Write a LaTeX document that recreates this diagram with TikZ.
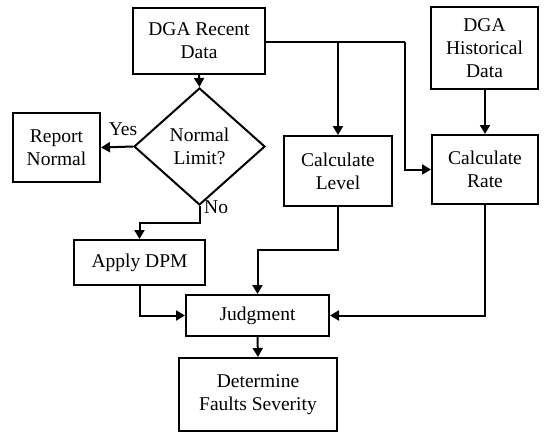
\documentclass[tikz,border=0pt]{standalone}
\usepackage{fontspec}
\setmainfont{Liberation Serif}
\usetikzlibrary{shapes.geometric,arrows.meta,calc}
\begin{document}
\begin{tikzpicture}[x=1pt,y=-1pt,
  box/.style={draw,line width=2pt,align=center,inner sep=0pt,font=\fontsize{19.5}{23}\selectfont},
  dia/.style={draw,diamond,line width=2pt,align=center,inner sep=0pt,font=\fontsize{19.5}{23}\selectfont},
  conn/.style={line width=2pt,-{Triangle[length=9pt,width=10pt]}},
  plain/.style={line width=2pt},
  lbl/.style={font=\fontsize{19.5}{23}\selectfont,inner sep=1pt}]
\useasboundingbox (0,0) rectangle (550,439);
\node[box,minimum width=132pt,minimum height=66pt] (recent) at (199,41) {DGA Recent\\Data};
\node[dia,minimum width=131pt,minimum height=117pt] (limit) at (199.5,146.5) {Normal\\Limit?};
\node[box,minimum width=87pt,minimum height=69pt] (report) at (56.5,147.5) {Report\\Normal};
\node[box,minimum width=107pt,minimum height=82pt] (hist) at (484.5,48) {DGA\\Historical\\Data};
\node[box,minimum width=108pt,minimum height=70pt] (level) at (338,171) {Calculate\\Level};
\node[box,minimum width=106pt,minimum height=69pt] (rate) at (485,169.5) {Calculate\\Rate};
\node[box,minimum width=131pt,minimum height=45pt] (dpm) at (139.5,262.5) {Apply DPM};
\node[box,minimum width=143pt,minimum height=41pt] (judg) at (257.5,315.5) {Judgment};
\node[box,minimum width=158pt,minimum height=73pt] (det) at (258,394.5) {Determine\\Faults Severity};
% connectors
\draw[conn] (recent.south) -- (limit.north);
\draw[conn] (limit.west) -- (report.east);
\node[lbl] (yes) at (123,129) {Yes};
\coordinate (nobend) at (199.5,223);
\draw[conn] (limit.south) -- (nobend) -| (dpm.north);
\node[lbl,anchor=west] (no) at (203,207) {No};
\coordinate (rtop) at (405,42);
\coordinate (lbranch) at (338,42);
\draw[plain] (recent.east |- rtop) -- (rtop);
\draw[conn] (rtop) |- (rate.west);
\draw[conn] (lbranch) -- (level.north);
\draw[conn] (hist.south -| rate.north) -- (rate.north);
\coordinate (lvbend) at (338,250);
\draw[conn] (level.south) -- (lvbend) -| (judg.north);
\draw[conn] (dpm.south) |- (judg.west);
\draw[conn] (rate.south) |- (judg.east);
\draw[conn] (judg.south) -- (det.north);
\end{tikzpicture}
\end{document}
